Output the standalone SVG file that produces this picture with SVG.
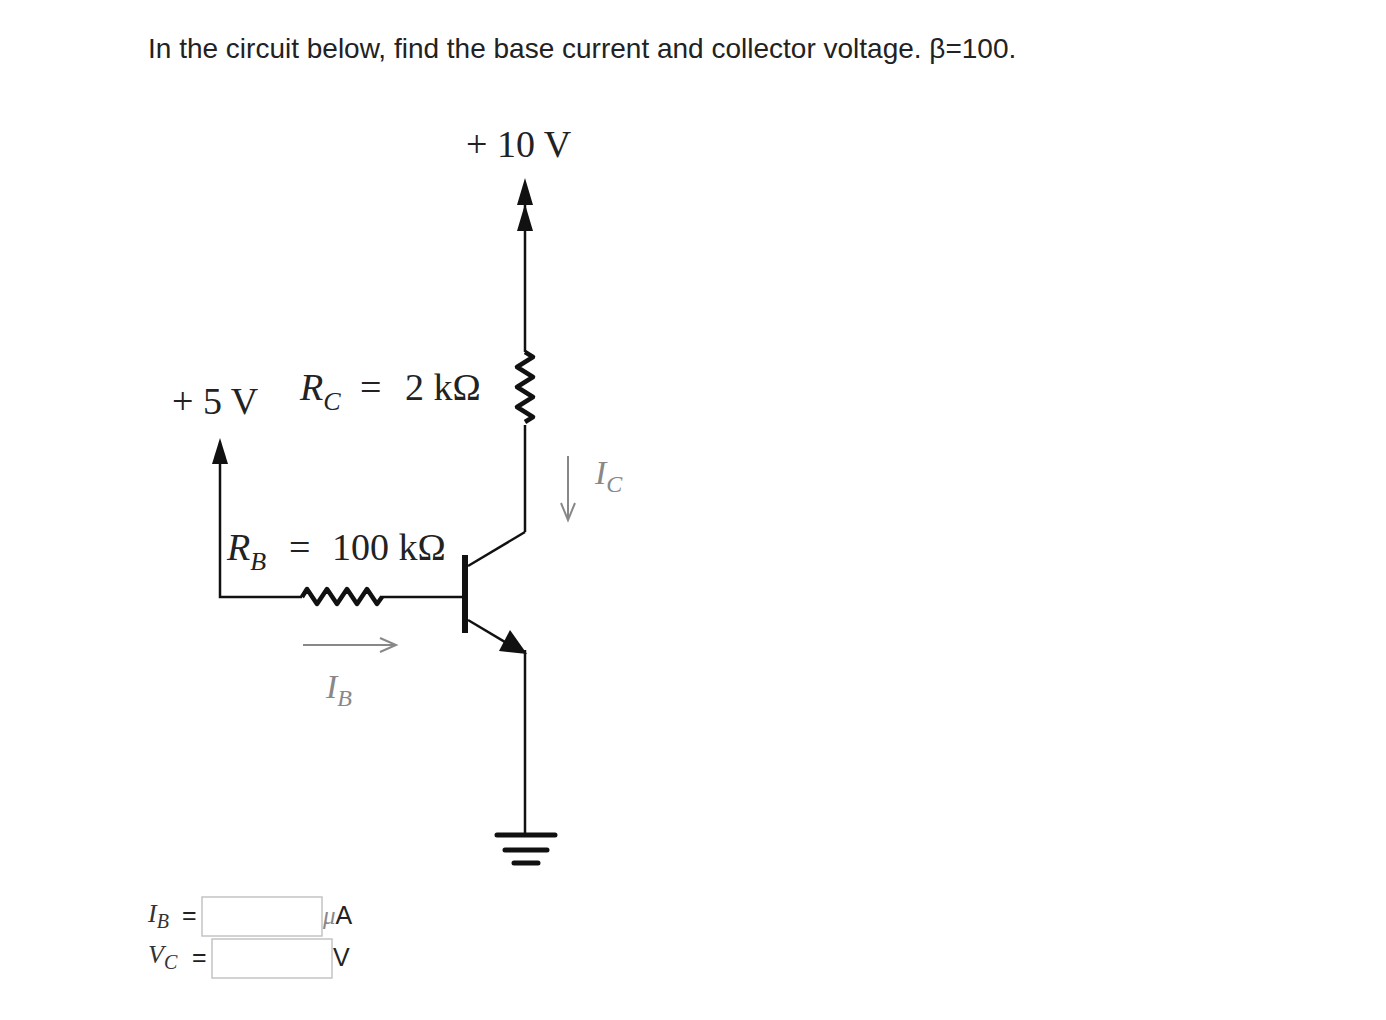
<svg xmlns="http://www.w3.org/2000/svg" width="1386" height="1020" viewBox="0 0 1386 1020">
<style>
.w{stroke:#111;stroke-width:2.5;fill:none}
.z{stroke:#111;stroke-width:4.5;fill:none;stroke-linejoin:round}
.t{font-family:"Liberation Serif",serif;font-size:38px;fill:#222}
.g{stroke:#888;stroke-width:2;fill:none}
.gt{font-family:"Liberation Serif",serif;font-style:italic;font-size:34px;fill:#888}
.q{font-family:"Liberation Sans",Arial,sans-serif;font-size:25px;fill:#222}
.box{fill:#fff;stroke:#c4c4c4;stroke-width:1.5}
</style>
<rect width="1386" height="1020" fill="#fff"/>
<text x="148" y="58" class="q" style="font-size:28px">In the circuit below, find the base current and collector voltage. β=100.</text>
<g id="labels">
<text x="466" y="157" class="t">+ 10 V</text>
<text x="172" y="414" class="t">+ 5 V</text>
<text x="300" y="400" class="t" font-style="italic">R<tspan font-size="26" dy="10">C</tspan></text>
<text x="360" y="400" class="t" fill="#777">=</text>
<text x="405" y="400" class="t">2 kΩ</text>
<text x="227" y="560" class="t" font-style="italic">R<tspan font-size="26" dy="10">B</tspan></text>
<text x="289" y="560" class="t" fill="#777">=</text>
<text x="332" y="560" class="t">100 kΩ</text>
<text x="595" y="484" class="gt">I<tspan font-size="24" dy="8">C</tspan></text>
<text x="326" y="698" class="gt">I<tspan font-size="24" dy="8">B</tspan></text>
</g>
<g id="connectors">
<path class="w" d="M525,205 V352 M525,425 V532"/>
<path class="z" d="M525,352 l8,5 -16,10 16,10 -16,10 16,10 -16,10 16,10 -8,5"/>
<path class="w" stroke-width="5" d="M525,532 L468,566"/>
<path d="M525,178 l-8,27 h16 z M525,204 l-8,27 h16 z" fill="#111"/>
<path class="w" stroke-width="2" d="M220,462 V597 H302 M380,597 H465"/>
<path class="z" d="M302,597 l5,-8 10,15 10,-15 10,15 10,-15 10,15 10,-15 10,15 5,-7"/>
<path d="M220,438 l-8,26 h16 z" fill="#111"/>
<line x1="465" y1="555" x2="465" y2="633" stroke="#111" stroke-width="6"/>
<path class="w" d="M468,620 L515,648" stroke-width="5"/>
<path d="M527,654 l-28,-3 11,-21 z" fill="#111"/>
<path class="w" d="M525,650 V835"/>
<path stroke="#111" stroke-width="5" stroke-linecap="round" d="M497,835 h58 M505,850 h42 M514,863 h24"/>
<path class="g" d="M568,456 V518 M561,503 L568,520 575,503"/>
<path class="g" d="M303,645 H395 M380,638 L396,645 380,652"/>
</g>
<g id="answers">
<text x="148" y="922" font-family="'Liberation Serif',serif" font-style="italic" font-size="26" fill="#333">I<tspan font-size="20" dy="6">B</tspan></text>
<text x="182" y="924" class="q">=</text>
<rect x="202" y="897" width="120" height="39" class="box"/>
<text x="323" y="924" class="q"><tspan font-family="'Liberation Serif',serif" font-style="italic" fill="#888">μ</tspan>A</text>
<text x="148" y="963" font-family="'Liberation Serif',serif" font-style="italic" font-size="26" fill="#333">V<tspan font-size="20" dy="6">C</tspan></text>
<text x="192" y="966" class="q">=</text>
<rect x="212" y="939" width="120" height="39" class="box"/>
<text x="333" y="966" class="q">V</text>
</g>
</svg>
